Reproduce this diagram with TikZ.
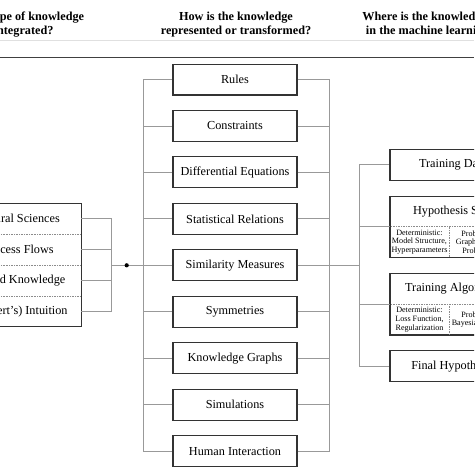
\documentclass[tikz,border=0pt]{standalone}
\usepackage{fontspec}
\setmainfont{Liberation Serif}
\usetikzlibrary{positioning}

\begin{document}
\begin{tikzpicture}[x=0.85pt, y=-0.85pt,
    head/.style={font=\fontsize{10.4}{11.9}\selectfont\bfseries, align=center, inner sep=0pt},
    rep-node/.style={draw=black!80, line width=0.9pt, minimum width=105.4pt, minimum height=26.3pt, inner sep=0pt, font=\fontsize{10.4}{12}\selectfont},
    src-row/.style={minimum width=102.9pt, minimum height=26.2pt, inner sep=0pt, font=\fontsize{10.4}{12}\selectfont},
    int-node/.style={draw=black!80, line width=0.9pt, minimum width=107.1pt, minimum height=26.3pt, inner sep=0pt, font=\fontsize{10.4}{12}\selectfont},
    int-title/.style={inner sep=0pt, font=\fontsize{10.4}{12}\selectfont},
    sub-cell/.style={minimum width=50.15pt, minimum height=26pt, inner sep=0pt, align=center, font=\fontsize{6.9}{7.3}\selectfont},
    frame/.style={draw=black!80, line width=0.9pt},
    sep/.style={draw=black!45, line width=0.4pt, dash pattern=on 0.6pt off 0.8pt},
    link/.style={draw=black!40, line width=0.7pt},
    hub/.style={circle, fill=black, inner sep=0pt, minimum size=3.6pt}
]

    \useasboundingbox (0,0) rectangle (474,474);
    \clip (0,0) rectangle (474,474);
    \fill[white] (0,0) rectangle (474,474);

    % column headers
    \node[head] (h-src) at (18,24.5) {Which type of knowledge\\is integrated?};
    \node[head] (h-rep) at (236,24.5) {How is the knowledge\\represented or transformed?};
    \node[head] (h-int) at (453,24.5) {Where is the knowledge integrated\\in the machine learning pipeline?};
    \draw[black!12, line width=0.5pt] (0,40) -- (474,40);
    \draw[black!75, line width=1.1pt] (0,57.5) -- (474,57.5);

    % knowledge sources
    \node[src-row] (s1) at (20.5,218.7) {};
    \node[src-row] (s2) at (20.5,249.6) {};
    \node[src-row] (s3) at (20.5,280.4) {};
    \node[src-row] (s4) at (20.5,311.3) {};
    \node[src-row] at (18.5,218.7) {Natural Sciences};
    \node[src-row] at (18.5,249.6) {Process Flows};
    \node[src-row] at (20.5,280.4) {World Knowledge};
    \node[src-row] at (20.5,311.3) {(Expert's) Intuition};
    \draw[sep] (s1.south west) -- (s1.south east);
    \draw[sep] (s2.south west) -- (s2.south east);
    \draw[sep] (s3.south west) -- (s3.south east);
    \draw[frame] (s1.north west) rectangle (s4.south east);

    % representations
    \node[rep-node] (r1) at (235,79.5) {Rules};
    \node[rep-node] (r2) at (235,125.95) {Constraints};
    \node[rep-node] (r3) at (235,172.4) {Differential Equations};
    \node[rep-node] (r4) at (235,218.85) {Statistical Relations};
    \node[rep-node] (r5) at (235,265.3) {Similarity Measures};
    \node[rep-node] (r6) at (235,311.75) {Symmetries};
    \node[rep-node] (r7) at (235,358.2) {Knowledge Graphs};
    \node[rep-node] (r8) at (235,404.65) {Simulations};
    \node[rep-node] (r9) at (235,451.1) {Human Interaction};

    % integration
    \node[int-node] (td) at (453,164.7) {};
    \node[int-title] at (td) {Training Data};
    \node[int-node, minimum height=52.1pt] (hs) at (453,226.7) {};
    \node[int-title] at (450,211.35) {Hypothesis Set};
    \node[sub-cell] (hs-det) at (419.5,242) {Deterministic:\\Model Structure,\\Hyperparameters};
    \node[sub-cell] (hs-prob) at (483,242) {Probabilistic:\\Graph Structure,\\Probabilities};
    \draw[sep] (hs.west) -- (hs.east);
    \draw[sep] (449,226.7) -- (449,257.3);
    \node[int-node, minimum height=52.4pt] (ta) at (453,304.2) {};
    \node[int-title] at (453,288.8) {Training Algorithm};
    \node[sub-cell] (ta-det) at (419.5,319.6) {Deterministic:\\Loss Function,\\Regularization};
    \node[sub-cell] (ta-prob) at (483,319.6) {Probabilistic:\\Bayesian Inference};
    \draw[sep] (ta.west) -- (ta.east);
    \draw[sep] (449,304.2) -- (449,335);
    \node[int-node] (fh) at (453,366.2) {};
    \node[int-title] at (fh) {Final Hypothesis};

    % connectors
    \coordinate (src-join) at (111.7,265.3);
    \coordinate (rep-bus) at (143,265.3);
    \coordinate (rep-join) at (329,265.3);
    \coordinate (int-bus) at (359,265.3);

    \draw[link] (s1.east) -| (src-join);
    \draw[link] (s2.east) -| (src-join);
    \draw[link] (s3.east) -| (src-join);
    \draw[link] (s4.east) -| (src-join);
    \draw[link] (src-join) -- (rep-bus);
    \node[hub] (dot) at (126.7,265.3) {};

    \draw[link] (rep-bus) |- (r1.west);
    \draw[link] (rep-bus) |- (r2.west);
    \draw[link] (rep-bus) |- (r3.west);
    \draw[link] (rep-bus) |- (r4.west);
    \draw[link] (rep-bus) |- (r5.west);
    \draw[link] (rep-bus) |- (r6.west);
    \draw[link] (rep-bus) |- (r7.west);
    \draw[link] (rep-bus) |- (r8.west);
    \draw[link] (rep-bus) |- (r9.west);

    \draw[link] (r1.east) -| (rep-join);
    \draw[link] (r2.east) -| (rep-join);
    \draw[link] (r3.east) -| (rep-join);
    \draw[link] (r4.east) -| (rep-join);
    \draw[link] (r5.east) -| (rep-join);
    \draw[link] (r6.east) -| (rep-join);
    \draw[link] (r7.east) -| (rep-join);
    \draw[link] (r8.east) -| (rep-join);
    \draw[link] (r9.east) -| (rep-join);
    \draw[link] (rep-join) -- (int-bus);

    \draw[link] (int-bus) |- (td.west);
    \draw[link] (int-bus) |- (hs.west);
    \draw[link] (int-bus) |- (ta.west);
    \draw[link] (int-bus) |- (fh.west);

\end{tikzpicture}
\end{document}
